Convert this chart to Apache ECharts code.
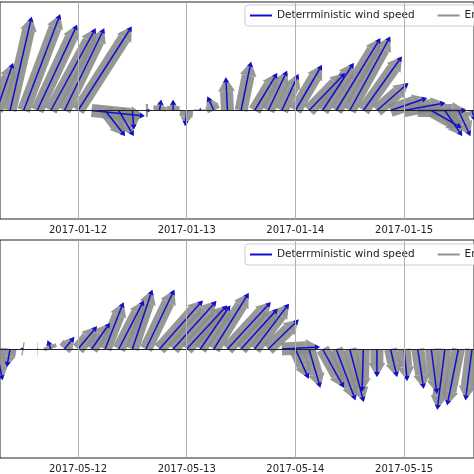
<!DOCTYPE html>
<html><head><meta charset="utf-8">
<script src="https://cdn.jsdelivr.net/npm/echarts@6/dist/echarts.min.js"></script>
<style>html,body{margin:0;padding:0;background:#fff}#c{width:474px;height:474px}</style>
</head><body><div id="c"></div>
<script>
// arrows every 3 h, starting at day 0.25 (06:00 of the first day)
const topLabels = ['2017-01-11','2017-01-12','2017-01-13','2017-01-14','2017-01-15','2017-01-16'];
const bottomLabels = ['2017-05-11','2017-05-12','2017-05-13','2017-05-14','2017-05-15','2017-05-16'];
const tickDays = [1,2,3,4];
const topU = [1.53,1.99,3.36,3.67,4.13,3.67,4.95,4.9,1.83,1.38,0.15,0.46,0.15,0,-0.15,0,-0.6,-0.15,0.92,2.08,1.74,1.53,2.45,3.33,2.87,4.07,3.73,3.55,2.9,3.36,3.8,4.5,2.8,1.6,1.1,0.3];
const topV = [4.37,8.65,8.87,7.9,7.58,7.58,7.74,-0.5,-2.35,-2.35,-1.74,0,1,1,-1.44,0.25,1.3,3.06,4.5,3.45,3.67,3.36,4.2,3.45,4.37,6.67,6.82,4.98,2.54,1.16,0.7,0,-1.6,-2.35,-2.35,-1];
const bottomU = [0.55,-0.3,-0.3,0.1,-0.3,0.92,1.74,1.68,1.68,2.3,1.83,2.6,3.97,3.97,3.7,2.75,3.2,3.97,3.36,3.15,2.8,3.5,1.22,1.04,1.96,1.77,1.28,-0.12,0,0.6,0.28,0.55,0.52,-0.7,-1.04,-0.6];
const bottomV = [-2.87,-1.65,0.05,0,0.8,1.1,2.08,2.39,4.3,4.46,5.44,5.44,4.46,4.4,4,4,5.14,4.3,3.7,4.16,2.7,0.18,-2.72,-3.55,-3.55,-4.7,-4.86,-3.94,-2.57,-2.57,-2.94,-3.64,-4.1,-5.57,-5.17,-4.7];

function toData(U,V){return U.map((u,i)=>[0.25+i*0.125,u,V[i]]);}
function arrowRender(color,lw,head){
  return function(params,api){
    const t=api.value(0),u=api.value(1),v=api.value(2);
    const p0=api.coord([t,0]);
    const k=api.size([0,1])[1];
    const dx=u*k,dy=-v*k;
    const x1=p0[0]+dx,y1=p0[1]+dy;
    const L=Math.hypot(dx,dy)||1;
    const ux=dx/L,uy=dy/L;
    const h=Math.min(head,L*0.6);
    const bx=x1-ux*h,by=y1-uy*h;
    const px=-uy*h*0.6,py=ux*h*0.6;
    return {type:'group',children:[
      {type:'line',shape:{x1:p0[0],y1:p0[1],x2:bx,y2:by},style:{stroke:color,lineWidth:lw}},
      {type:'polygon',shape:{points:[[x1,y1],[bx+px,by+py],[bx-px,by-py]]},style:{fill:color}}
    ]};
  };
}
const dayPx = 108.7;
const xMin = 1-78/dayPx, xMax = xMin+474/dayPx;
function grid(top,h){return {left:0,right:0,top:top,height:h,show:true,borderColor:'#222',borderWidth:1,backgroundColor:'transparent'};}
function xAxis(gi,labels){return {type:'value',gridIndex:gi,min:xMin,max:xMax,
  axisLine:{lineStyle:{color:'#222'}},
  axisTick:{lineStyle:{color:'#222'},length:4,customValues:tickDays},
  splitLine:{show:false},
  axisLabel:{customValues:tickDays,formatter:v=>labels[Math.round(v)],fontFamily:'DejaVu Sans',fontSize:10,color:'#222',margin:6}};}
function yAxis(gi){return {type:'value',gridIndex:gi,min:-10,max:10,show:false,splitLine:{show:false}};}
function series(gi,U,V){
  const d=toData(U,V);
  return [
    {type:'custom',name:'Ensemble wind speed',xAxisIndex:gi,yAxisIndex:gi,clip:true,data:d,
     renderItem:arrowRender('rgba(140,140,140,0.9)',13,14),z:2,
     markLine:{silent:true,symbol:'none',label:{show:false},
       data:[{yAxis:0,lineStyle:{color:'#222',type:'solid',width:1}}].concat(tickDays.map(t=>({xAxis:t,lineStyle:{color:'#b0b0b0',type:'solid',width:1}})))}},
    {type:'custom',name:'Deterrministic wind speed',xAxisIndex:gi,yAxisIndex:gi,clip:true,data:d,
     renderItem:arrowRender('#1010cc',1.5,5),z:3}
  ];
}
function legend(top){return {top:top,left:245,width:600,orient:'horizontal',itemWidth:22,itemHeight:2,icon:'rect',itemGap:23,
  padding:[5,5],backgroundColor:'rgba(255,255,255,0.85)',borderColor:'#ccc',borderWidth:1,borderRadius:3,
  textStyle:{fontFamily:'DejaVu Sans',fontSize:10.5,color:'#222'},
  data:[{name:'Deterrministic wind speed',itemStyle:{color:'#1010cc'}},{name:'Ensemble wind speed',itemStyle:{color:'#909090'}}]};}
const chart=echarts.init(document.getElementById('c'),null,{renderer:'canvas'});
chart.setOption({
  animation:false,
  grid:[grid(2,217),grid(240,218)],
  xAxis:[xAxis(0,topLabels),xAxis(1,bottomLabels)],
  yAxis:[yAxis(0),yAxis(1)],
  legend:[legend(5),legend(244)],
  series:[...series(0,topU,topV),...series(1,bottomU,bottomV)]
});
</script></body></html>
